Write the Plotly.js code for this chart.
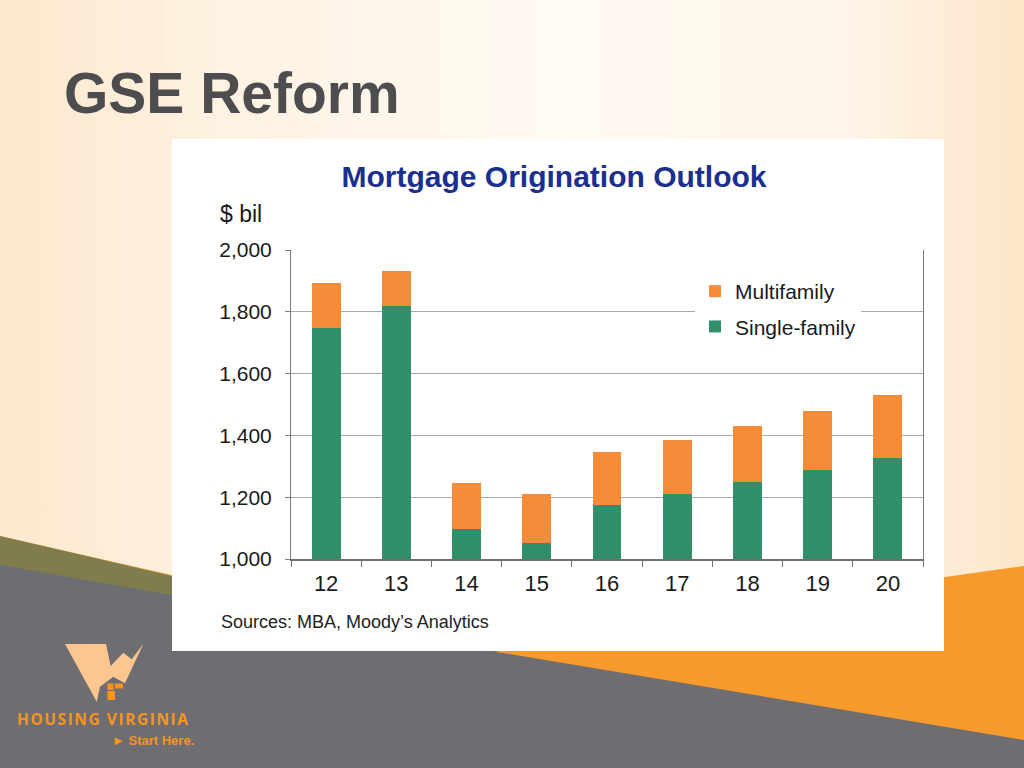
<!DOCTYPE html>
<html>
<head>
<meta charset="utf-8">
<script src="https://cdn.plot.ly/plotly-3.0.1.min.js"></script>
<style>
  html, body { margin: 0; padding: 0; width: 1024px; height: 768px; overflow: hidden; }
  body { background: linear-gradient(90deg, #fde8cd 0%, #fef2e2 22%, #fffaf3 55%, #fef5e9 82%, #fde6c9 100%); }
  #chart { width: 1024px; height: 768px; }
</style>
</head>
<body>
<div id="chart"></div>
<script>
const years = ['12', '13', '14', '15', '16', '17', '18', '19', '20'];
const singleFamily = [1748, 1820, 1096, 1051, 1175, 1211, 1250, 1289, 1328];
const multifamily = [144, 111, 149, 158, 170, 173, 181, 190, 202];
const yTicks = [1000, 1200, 1400, 1600, 1800, 2000];

// pixel -> paper helpers (plot area: x 291..923, y 250..559)
const L = 291, R = 923, T = 250, B = 559;
const px = X => (X - L) / (R - L);
const py = Y => (B - Y) / (B - T);
function poly(pts) {
  return 'M' + pts.map(p => px(p[0]).toFixed(5) + ',' + py(p[1]).toFixed(5)).join('L') + 'Z';
}
function pshape(pts, color) {
  return {type: 'path', xref: 'paper', yref: 'paper', layer: 'below',
          path: poly(pts), fillcolor: color, line: {width: 0}};
}
function rshape(x0, y0, x1, y1, color) {
  return {type: 'rect', xref: 'paper', yref: 'paper', layer: 'below',
          x0: px(x0), x1: px(x1), y0: py(y1), y1: py(y0), fillcolor: color, line: {width: 0}};
}

const shapes = [
  pshape([[0, 536], [470, 643], [1024, 566], [1024, 768], [0, 768]], '#f79a2c'),
  pshape([[0, 536], [500, 652], [0, 652]], '#7f7d4e'),
  pshape([[0, 565], [497, 652], [1024, 740], [1024, 768], [0, 768]], '#6e6d72'),
  rshape(172, 139, 944, 651, '#ffffff'),
  // logo
  pshape([[65, 644], [106, 644], [110.7, 666], [123.3, 652.7], [131.7, 659.3], [143.3, 644],
          [125, 683.3], [113.3, 676.7], [100, 686.7], [96.7, 701.7]], '#fcc690'),
  rshape(107.5, 683.5, 113.5, 690, '#f7941d'),
  rshape(115, 683.5, 123, 688.5, '#f7941d'),
  rshape(107.5, 691, 115, 700, '#f7941d')
];

const traces = [
  {type: 'bar', name: 'Single-family', x: years, y: singleFamily,
   marker: {color: '#31906a'}, legendgroup: 'sf', legendrank: 2, hoverinfo: 'x+y+name'},
  {type: 'bar', name: 'Multifamily', x: years, y: multifamily,
   marker: {color: '#f48c3a'}, legendgroup: 'mf', legendrank: 1, hoverinfo: 'x+y+name'}
];

const hs = '\u200A';
const spaced = s => s.split('').join(hs);

const layout = {
  width: 1024, height: 768,
  margin: {l: L, r: 1024 - R, t: T, b: 768 - B, pad: 0},
  paper_bgcolor: 'rgba(0,0,0,0)',
  plot_bgcolor: '#ffffff',
  barmode: 'stack',
  bargap: 0.59,
  showlegend: true,
  font: {family: 'Liberation Sans, Arial, sans-serif', color: '#1a1a1a'},
  title: {
    text: '<b>Mortgage Origination Outlook</b>',
    xref: 'container', yref: 'container',
    x: 554 / 1024, xanchor: 'center',
    y: 1 - 176 / 768, yanchor: 'middle',
    font: {family: 'Liberation Sans, Arial, sans-serif', size: 30, color: '#1b2f8e'}
  },
  xaxis: {
    type: 'category',
    showline: true, linecolor: '#6f6f6f', linewidth: 1.5,
    ticks: 'outside', tickson: 'boundaries', ticklen: 6, tickcolor: '#6f6f6f', tickwidth: 1,
    ticklabelstandoff: 4,
    tickfont: {size: 22, color: '#1a1a1a'},
    showgrid: false
  },
  yaxis: {
    range: [1000, 2000],
    tickvals: yTicks,
    tickformat: ',d',
    showline: true, linecolor: '#7a7a7a', linewidth: 1, mirror: true,
    ticks: 'outside', ticklen: 5, tickcolor: '#7a7a7a',
    ticklabelstandoff: 9,
    tickfont: {size: 21, color: '#1a1a1a'},
    gridcolor: '#a8a8a8', gridwidth: 1,
    zeroline: false
  },
  legend: {
    x: px(695), y: py(271), xanchor: 'left', yanchor: 'top',
    bgcolor: '#ffffff', borderwidth: 0,
    traceorder: 'grouped', tracegroupgap: 5,
    font: {size: 21, color: '#1a1a1a'}
  },
  shapes: shapes,
  annotations: [
    {text: '<b>GSE Reform</b>', xref: 'paper', yref: 'paper', x: px(62), y: py(93),
     xanchor: 'left', yanchor: 'middle', showarrow: false,
     font: {family: 'Liberation Sans, Arial, sans-serif', size: 57, color: '#4d4d50'}},
    {text: '$ bil', xref: 'paper', yref: 'paper', x: px(218), y: py(214),
     xanchor: 'left', yanchor: 'middle', showarrow: false,
     font: {size: 23, color: '#1a1a1a'}},
    {text: 'Sources: MBA, Moody’s Analytics', xref: 'paper', yref: 'paper', x: px(219), y: py(622),
     xanchor: 'left', yanchor: 'middle', showarrow: false,
     font: {size: 18, color: '#222222'}},
    {text: '<b>' + spaced('HOUSING VIRGINIA') + '</b>', xref: 'paper', yref: 'paper', x: px(15), y: py(719),
     xanchor: 'left', yanchor: 'middle', showarrow: false,
     font: {family: 'Open Sans, Liberation Sans, sans-serif', size: 15.5, color: '#f7941d'}},
    {text: '<b>► Start Here.</b>', xref: 'paper', yref: 'paper', x: px(110), y: py(740),
     xanchor: 'left', yanchor: 'middle', showarrow: false,
     font: {family: 'Liberation Sans, sans-serif', size: 13, color: '#f7941d'}}
  ]
};

Plotly.newPlot('chart', traces, layout, {displayModeBar: false, staticPlot: true});
</script>
</body>
</html>
